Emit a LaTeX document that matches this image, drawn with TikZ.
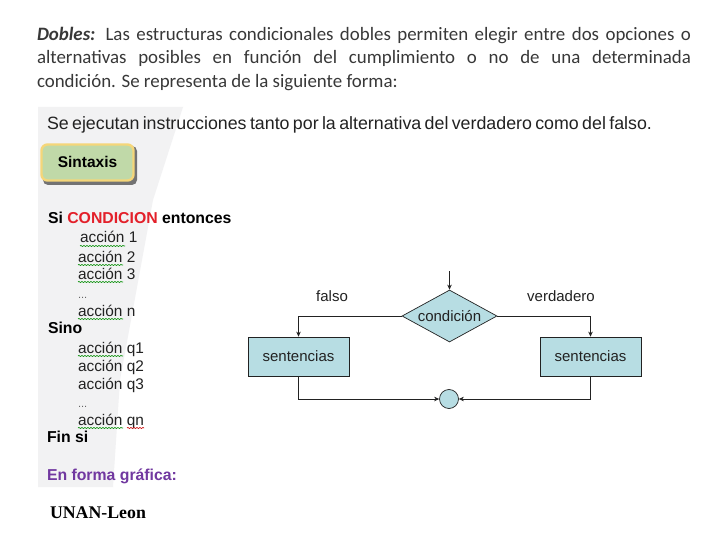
\documentclass[tikz,border=0pt]{standalone}
\usepackage{fontspec}
\setmainfont{Liberation Sans}
\newfontfamily\calib{Carlito}
\newfontfamily\serifb{Liberation Serif}
\usetikzlibrary{shapes.geometric,arrows.meta,decorations.pathmorphing}
\definecolor{flow}{HTML}{B7DDE3}
\definecolor{ink}{HTML}{222222}
\definecolor{synfill}{HTML}{C0D9A8}
\definecolor{synline}{HTML}{F5D679}
\definecolor{purp}{HTML}{7138A0}
\definecolor{redw}{HTML}{E3202A}
\definecolor{pale}{HTML}{F2F2F3}
\tikzset{
  x=1pt,y=-1pt,
  txt/.style={anchor=base west,inner sep=0pt,outer sep=0pt,text=ink},
  para/.style={txt,font=\calib\fontsize{18.9}{20}\selectfont,text=ink!90},
  list/.style={txt,font=\fontsize{15.4}{18}\selectfont},
  head/.style={txt,font=\bfseries\fontsize{15.8}{18}\selectfont,text=black},
  flowbox/.style={draw=ink,fill=flow,line width=0.7pt,minimum width=101pt,minimum height=39pt,inner sep=0pt,font=\fontsize{15}{17}\selectfont,text=ink},
  flowdec/.style={diamond,aspect=1.83,draw=ink,fill=flow,line width=0.7pt,minimum width=95pt,minimum height=52pt,inner sep=0pt,font=\fontsize{15}{17}\selectfont,text=ink},
  flowjoin/.style={circle,draw=ink,fill=flow,line width=0.7pt,minimum size=19pt,inner sep=0pt},
  lab/.style={inner sep=0pt,font=\fontsize{15}{16}\selectfont,text=ink},
  link/.style={draw=ink,line width=0.7pt,-{Stealth[length=5pt,width=4.5pt]}},
  squig/.style={decorate,decoration={snake,amplitude=0.6pt,segment length=3pt},line width=0.6pt},
}
\begin{document}
\begin{tikzpicture}
\useasboundingbox (0,0) rectangle (720,540);
\fill[white] (0,0) rectangle (720,540);
% pale backdrop
\fill[pale] (38,107) -- (183,107) -- (153,200) -- (120,380) -- (113,487) -- (38,487) -- cycle;
% paragraph
\node[para] (p1) at (37,41) {\makebox[654pt][s]{\textbf{\textit{Dobles:}} Las estructuras condicionales dobles permiten elegir entre dos opciones o}};
\node[para] (p2) at (37,64) {\makebox[654pt][s]{alternativas posibles en función del cumplimiento o no de una determinada}};
\node[para] (p3) at (37,88) {condición. Se representa de la siguiente forma:};
\node[txt,font=\fontsize{17.8}{20}\selectfont] (se) at (47,130) {\makebox[605pt][s]{Se ejecutan instrucciones tanto por la alternativa del verdadero como del falso.}};
% Sintaxis
\fill[black!55,rounded corners=5pt] (43,146) rectangle (137,185);
\node[draw=synline,fill=synfill,line width=2.4pt,rounded corners=6pt,minimum width=92pt,minimum height=36pt,inner sep=0pt,font=\bfseries\fontsize{15.5}{18}\selectfont,text=black] (syn) at (87.5,162.5) {\raisebox{2pt}{Sintaxis}};
% pseudo-code
\node[head] (si) at (48,224) {Si \textcolor{redw}{CONDICION} entonces};
\node[list] (a1) at (80,243) {acción 1};
\node[list] (a2) at (78,262) {acción 2};
\node[list] (a3) at (78,279) {acción 3};
\node[txt,font=\fontsize{11}{12}\selectfont,text=black!60] (d1) at (78,298) {...};
\node[list] (an) at (78,316) {acción n};
\node[head] (sino) at (48,333) {Sino};
\node[list] (q1) at (78,353) {acción q1};
\node[list] (q2) at (78,371) {acción q2};
\node[list] (q3) at (78,389) {acción q3};
\node[txt,font=\fontsize{11}{12}\selectfont,text=black!60] (d2) at (78,407) {...};
\node[list] (qn) at (78,425) {acción qn};
\node[head] (fin) at (47,442) {Fin si};
\node[head,text=purp] (forma) at (47,480) {En forma gráfica:};
\node[txt,font=\serifb\bfseries\fontsize{17.8}{18}\selectfont,text=black] (unan) at (50,518) {UNAN-Leon};
% spell-check underlines
\foreach \yy/\xa in {246/80,265/78,282/78,319/78,356/78,428/78}
  \draw[squig,draw=green!55!black] (\xa,\yy) -- (\xa+45,\yy);
\draw[squig,draw=red!80!black] (127,428) -- (144,428);
% flowchart
\coordinate (start) at (449.5,271);
\node[flowdec] (cond) at (449.5,316) {condición};
\node[flowbox] (sf) at (298.5,356.5) {sentencias};
\node[flowbox] (sv) at (590.5,356.5) {sentencias};
\node[flowjoin] (join) at (449,399) {};
\node[lab] (lf) at (332,296.5) {falso};
\node[lab] (lv) at (561,296.5) {verdadero};
\draw[link] (start) -- (cond.north);
\draw[link] (cond.west) -| (sf.north);
\draw[link] (cond.east) -| (sv.north);
\draw[link] (sf.south) |- (join.west);
\draw[link] (sv.south) |- (join.east);
\end{tikzpicture}
\end{document}
